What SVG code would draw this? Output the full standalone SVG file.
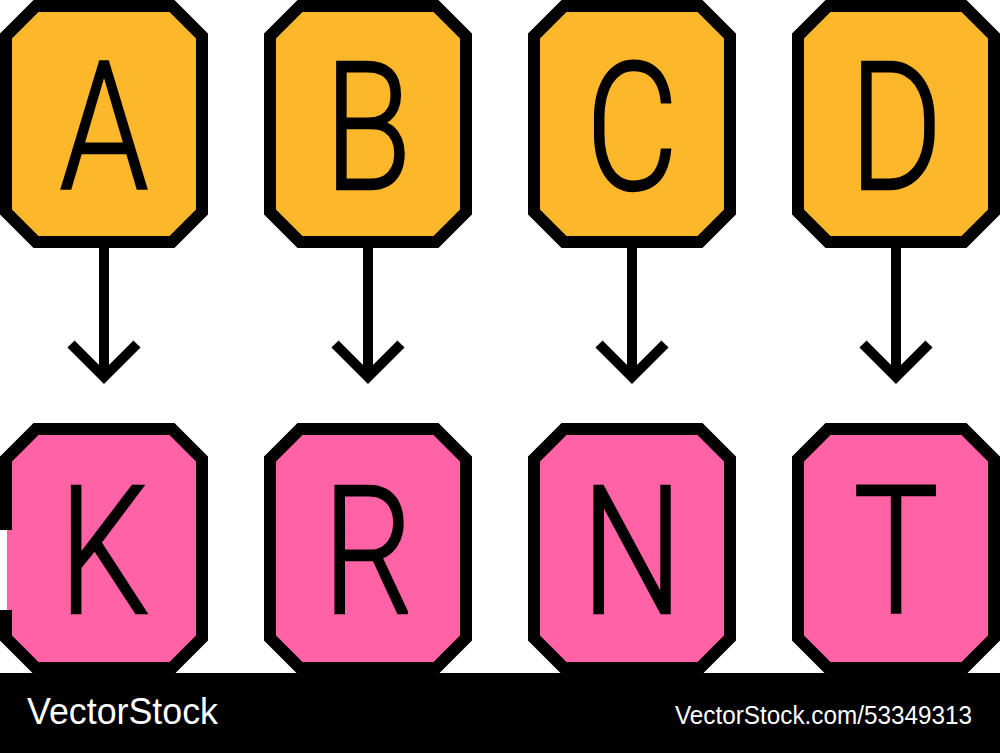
<svg xmlns="http://www.w3.org/2000/svg" width="1000" height="753" viewBox="0 0 1000 753">
<defs>
<style>
.oct{stroke:#000;stroke-width:12;stroke-linejoin:miter}
.top{fill:#FDB72A}
.bot{fill:#FF63A5}
.let{font-family:Roboto,"DejaVu Sans",sans-serif;font-weight:300;font-size:178px;fill:#000;stroke:#000;stroke-width:2.5;text-anchor:middle}
.con{stroke:#000;stroke-width:10;fill:none}
.wm{font-family:"Liberation Sans",Arial,sans-serif;fill:#fff}
</style>
<polygon id="octT" points="-68,6 68,6 98,36 98,212 68,242 -68,242 -98,212 -98,36"/>
<polygon id="octB" points="-68,429 68,429 98,459 98,638 68,668 -68,668 -98,638 -98,459"/>
</defs>
<rect width="1000" height="753" fill="#fff"/>
<g id="connectors">
<g id="c-A-K"><line class="con" x1="104" y1="246" x2="104" y2="374"/><polyline class="con" points="71,344 104,377 137,344"/></g>
<g id="c-B-R"><line class="con" x1="368" y1="246" x2="368" y2="374"/><polyline class="con" points="335,344 368,377 401,344"/></g>
<g id="c-C-N"><line class="con" x1="632" y1="246" x2="632" y2="374"/><polyline class="con" points="599,344 632,377 665,344"/></g>
<g id="c-D-T"><line class="con" x1="896" y1="246" x2="896" y2="374"/><polyline class="con" points="863,344 896,377 929,344"/></g>
</g>
<g id="node-A"><use href="#octT" class="oct top" x="104"/><text class="let" transform="translate(104,189) scale(0.8,1)">A</text></g>
<g id="node-B"><use href="#octT" class="oct top" x="368"/><text class="let" transform="translate(368,189) scale(0.8,1)">B</text></g>
<g id="node-C"><use href="#octT" class="oct top" x="632"/><text class="let" transform="translate(632,189) scale(0.8,1)">C</text></g>
<g id="node-D"><use href="#octT" class="oct top" x="896"/><text class="let" transform="translate(896,189) scale(0.8,1)">D</text></g>
<g id="node-K"><use href="#octB" class="oct bot" x="104"/><rect x="0" y="530" width="7" height="80" fill="#fff"/><rect x="7" y="530" width="6" height="80" fill="#FF63A5"/><text class="let" transform="translate(104,613) scale(0.8,1)">K</text></g>
<g id="node-R"><use href="#octB" class="oct bot" x="368"/><text class="let" transform="translate(368,613) scale(0.8,1)">R</text></g>
<g id="node-N"><use href="#octB" class="oct bot" x="632"/><text class="let" transform="translate(632,613) scale(0.8,1)">N</text></g>
<g id="node-T"><use href="#octB" class="oct bot" x="896"/><text class="let" transform="translate(896,613) scale(0.8,1)">T</text></g>
<g id="footer">
<rect x="0" y="673" width="1000" height="80" fill="#000"/>
<text class="wm" x="27" y="724" font-size="36" textLength="191" lengthAdjust="spacingAndGlyphs">VectorStock</text>
<text class="wm" x="675" y="724" font-size="25" textLength="297" lengthAdjust="spacingAndGlyphs">VectorStock.com/53349313</text>
</g>
</svg>
